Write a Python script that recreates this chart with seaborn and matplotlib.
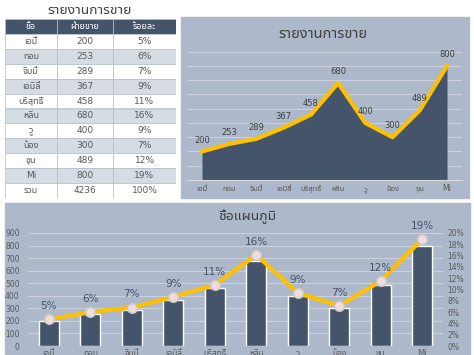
import numpy as np
import pandas as pd
import seaborn as sns
import matplotlib.pyplot as plt
from matplotlib.patches import Rectangle

# data
names = ["เอมี่", "ทอม", "จิมมี่", "เอมิลี่", "บริสุทธิ์", "หลิน", "วู", "น้อง", "ซุน", "Mi"]
sales = [200, 253, 289, 367, 458, 680, 400, 300, 489, 800]
share = [0.047, 0.060, 0.068, 0.087, 0.108, 0.161, 0.094, 0.071, 0.115, 0.189]
pct_labels = ["5%", "6%", "7%", "9%", "11%", "16%", "9%", "7%", "12%", "19%"]
headers = ["ชื่อ", "ฝ่ายขาย", "ร้อยละ"]
total_row = ["รวม", "4236", "100%"]
left_ticks = [0, 100, 200, 300, 400, 500, 600, 700, 800, 900]
right_ticks = [0, 0.02, 0.04, 0.06, 0.08, 0.10, 0.12, 0.14, 0.16, 0.18, 0.20]
right_labels = ["0%", "2%", "4%", "6%", "8%", "10%", "12%", "14%", "16%", "18%", "20%"]

df = pd.DataFrame({"name": names, "sales": sales, "share": share})
x = np.arange(len(names))

sns.set_style("white")
plt.rcParams["font.family"] = ["Noto Sans Thai UI", "DejaVu Sans"]

dark = "#44546a"
panel = "#adb9ca"
yellow = "#ffc000"
grid_c = "#cbd2dd"
text_c = "#595959"

W, H = 474, 355
fig = plt.figure(figsize=(W / 100, H / 100), dpi=100)


def px_rect(x0, y0, x1, y1):
    return [x0 / W, 1 - y1 / H, (x1 - x0) / W, (y1 - y0) / H]


def panel_bg(x0, y0, x1, y1):
    fig.add_artist(Rectangle((x0 / W, 1 - y1 / H), (x1 - x0) / W, (y1 - y0) / H,
                             transform=fig.transFigure, color=panel, zorder=0))


# ---- table ----
fig.text(90 / W, 1 - 10 / H, "รายงานการขาย", ha="center", va="center",
         fontsize=10, color="#404040")
ax_t = fig.add_axes(px_rect(5, 19, 176, 198))
ax_t.set_xlim(0, 171)
ax_t.set_ylim(12, 0)
ax_t.axis("off")
col_edges = [0, 52, 108, 171]
rows = [headers] + [[n, str(s), p] for n, s, p in zip(names, sales, pct_labels)] + [total_row]
for r, row in enumerate(rows):
    if r == 0:
        fc = dark
    elif r % 2 == 0 and r < len(rows) - 1:
        fc = "#d6dce4"
    else:
        fc = "white"
    for c in range(3):
        x0, x1 = col_edges[c], col_edges[c + 1]
        ax_t.add_patch(Rectangle((x0, r), x1 - x0, 1, facecolor=fc,
                                 edgecolor="#b4bcc8", lw=0.5))
        ax_t.text((x0 + x1) / 2, r + 0.5, row[c], ha="center", va="center",
                  fontsize=6.5, color="white" if r == 0 else text_c,
                  fontweight="bold" if r == 0 else "normal")

# ---- top-right area chart ----
panel_bg(181, 17, 469, 198)
fig.text(323 / W, 1 - 34 / H, "รายงานการขาย", ha="center", va="center",
         fontsize=10.5, color="#404040")
ax1 = fig.add_axes(px_rect(187, 51.7, 462, 180))
ax1.set_facecolor("none")
ax1.fill_between(x, sales, color=dark, lw=0, zorder=2)
sns.lineplot(x=x, y=sales, color=yellow, lw=3, ax=ax1, zorder=3)
for i, v in enumerate(sales):
    ax1.annotate(str(v), (i, v), xytext=(0, 5), textcoords="offset points",
                 ha="center", va="bottom", fontsize=6, color="#404040", zorder=4)
ax1.set_xlim(-0.55, 9.55)
ax1.set_ylim(0, 900)
ax1.set_yticks(left_ticks)
ax1.grid(axis="y", color=grid_c, lw=0.8)
ax1.set_axisbelow(True)
ax1.set_xticks(x)
ax1.set_xticklabels(names)
ax1.set_xticks(np.arange(-0.5, 10, 1), minor=True)
ax1.tick_params(axis="x", which="major", length=0, labelsize=5.5, labelcolor=text_c, pad=3)
ax1.tick_params(axis="x", which="minor", length=2.5, color="#d9d9d9", direction="inout")
ax1.tick_params(axis="y", length=0, labelleft=False)
for s in ["top", "right", "left"]:
    ax1.spines[s].set_visible(False)
ax1.spines["bottom"].set_color("#d9d9d9")
ax1.set_xlabel("")
ax1.set_ylabel("")

# ---- bottom combo chart ----
panel_bg(5, 203, 470, 360)
fig.text(247 / W, 1 - 217 / H, "ชื่อแผนภูมิ", ha="center", va="center",
         fontsize=10, color="#404040")
ax2 = fig.add_axes(px_rect(28, 233, 443, 346))
ax2.set_facecolor("none")
sns.barplot(data=df, x="name", y="sales", color=dark, saturation=1,
            width=0.48, ax=ax2, zorder=2)
ax2.set_xlim(-0.5, 9.5)
ax2.set_ylim(0, 900)
ax2.set_yticks(left_ticks)
ax2.grid(axis="y", color=grid_c, lw=0.8)
ax2.set_axisbelow(True)
ax2.tick_params(axis="y", length=0, labelsize=5.5, labelcolor=text_c, pad=6)
ax2.tick_params(axis="x", length=0, labelsize=6, labelcolor=text_c, pad=2)
for s in ax2.spines.values():
    s.set_visible(False)
ax2.set_xlabel("")
ax2.set_ylabel("")

ax3 = ax2.twinx()
sns.lineplot(x=x, y=share, color=yellow, lw=3, marker="o", markersize=7,
             markerfacecolor="#f2dcdb", markeredgecolor="#c9c9c9",
             markeredgewidth=1, ax=ax3, zorder=3)
for i, v in enumerate(share):
    ax3.annotate(pct_labels[i], (i, v), xytext=(0, 6), textcoords="offset points",
                 ha="center", va="bottom", fontsize=7.5, color=dark)
ax3.set_ylim(0, 0.20)
ax3.set_yticks(right_ticks)
ax3.set_yticklabels(right_labels)
ax3.tick_params(axis="y", length=0, labelsize=5.5, labelcolor=text_c, pad=3)
for s in ax3.spines.values():
    s.set_visible(False)
ax3.set_ylabel("")

fig.savefig("out.png", dpi=100)
